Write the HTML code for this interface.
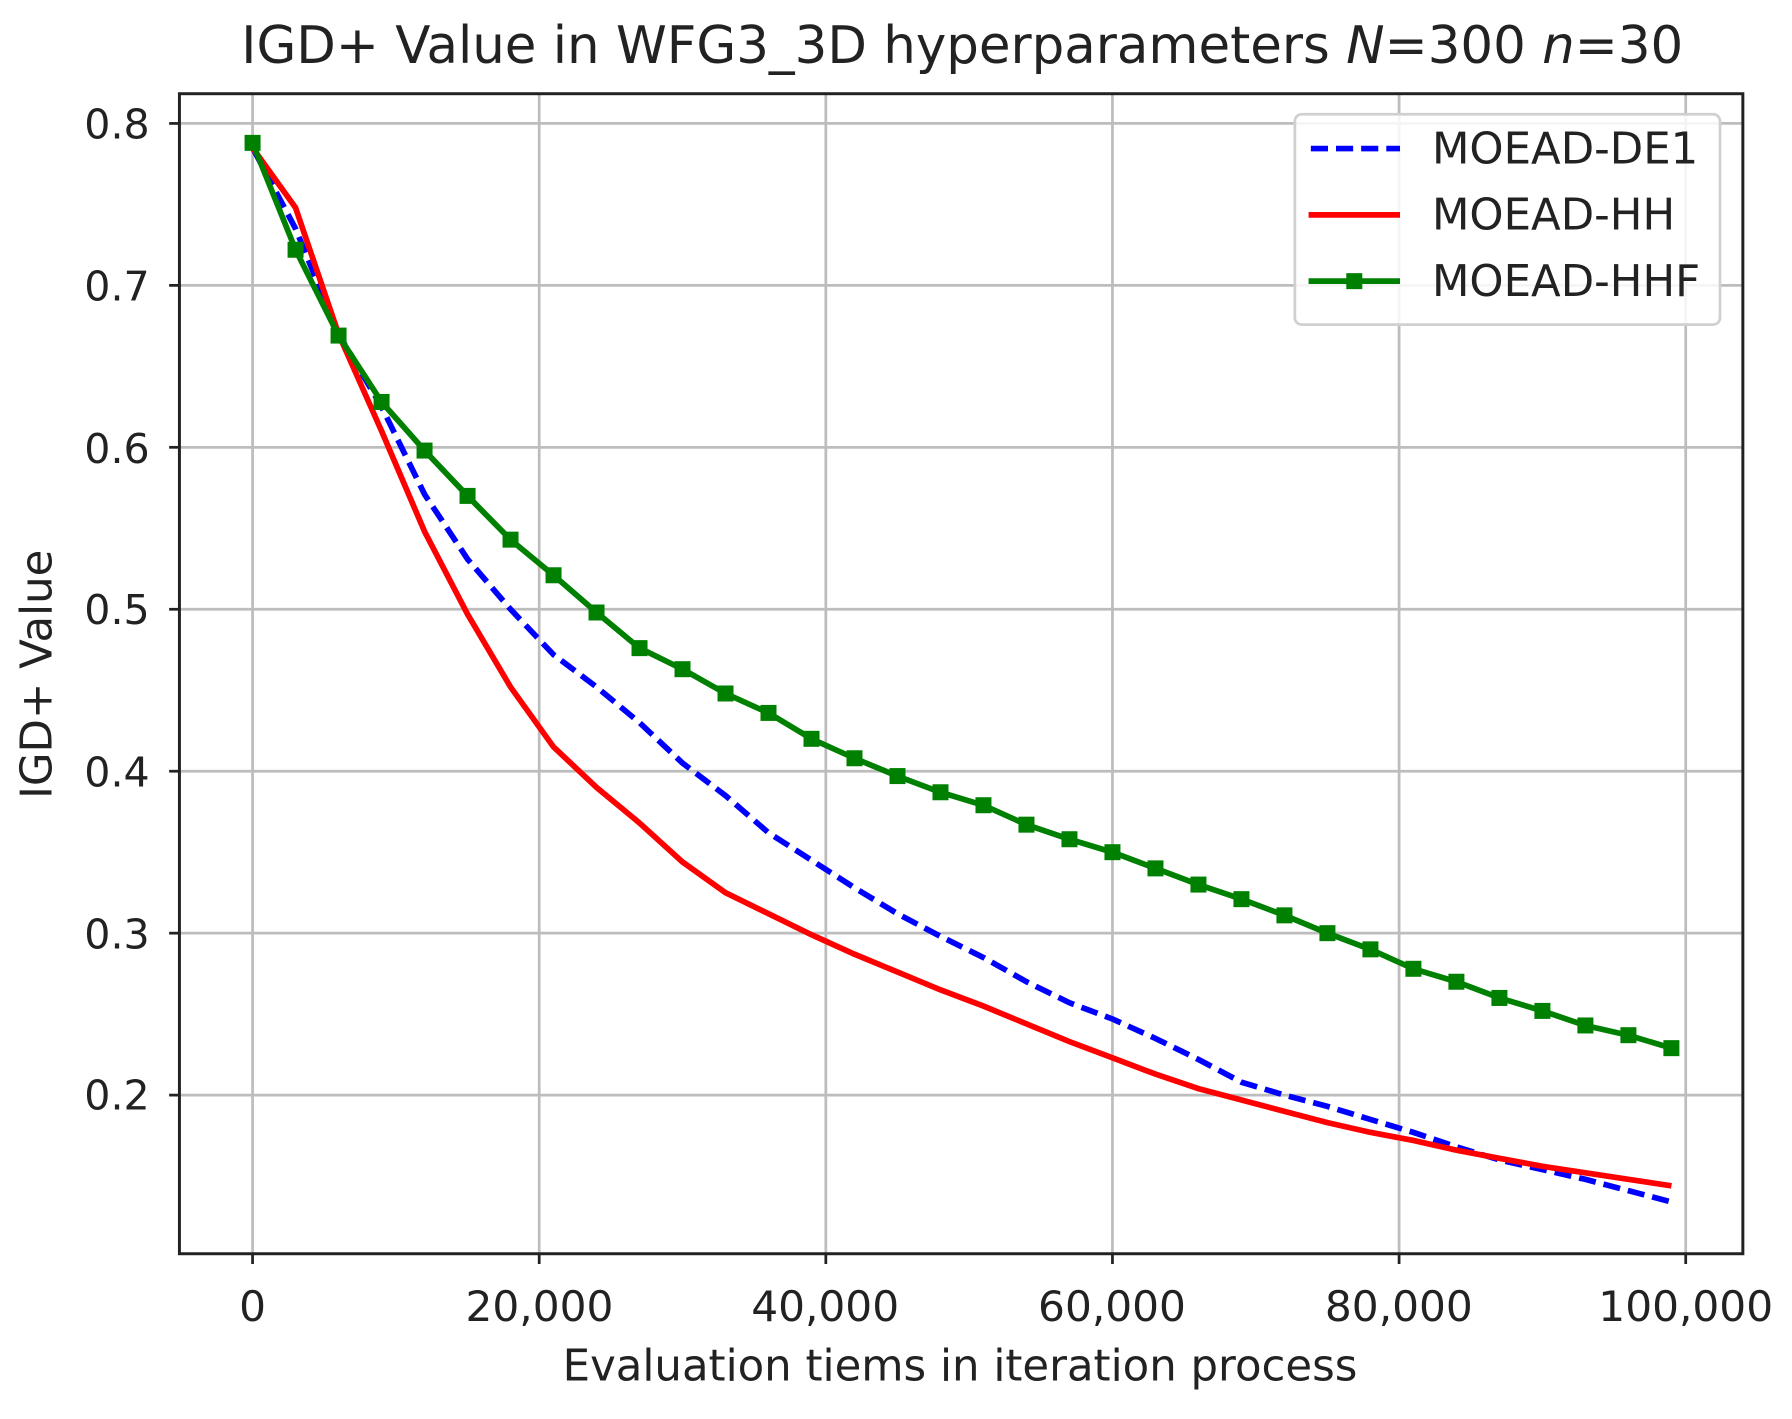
<!DOCTYPE html>
<html><head><meta charset="utf-8"><style>
html,body{margin:0;padding:0;background:#fff;}
svg{display:block;}
text{font-family:"DejaVu Sans","Liberation Sans",sans-serif;fill:#222;}
</style></head><body>
<svg id="c" width="1792" height="1419" viewBox="0 0 1568 1241.6" preserveAspectRatio="none" xmlns="http://www.w3.org/2000/svg">
<rect width="1568" height="1242" fill="#fff"/>
<g id="grid" stroke="#bdbdbd" stroke-width="2.4"></g>
<g id="series"></g>
<rect x="157" y="82" width="1368" height="1015" fill="none" stroke="#222" stroke-width="2.6"/>
<g id="ticks" stroke="#222" stroke-width="2.4"></g>
<g font-size="36" text-anchor="end">
<text x="131" y="121">0.8</text><text x="131" y="263">0.7</text><text x="131" y="405">0.6</text>
<text x="131" y="546">0.5</text><text x="131" y="688">0.4</text><text x="131" y="830">0.3</text>
<text x="131" y="971">0.2</text>
</g>
<g font-size="37" text-anchor="middle">
<text x="221" y="1156">0</text><text x="472" y="1156">20,000</text><text x="722" y="1156">40,000</text>
<text x="973" y="1156">60,000</text><text x="1224" y="1156">80,000</text><text x="1475" y="1156">100,000</text>
</g>
<text x="840" y="1208" font-size="38" text-anchor="middle">Evaluation tiems in iteration process</text>
<text transform="translate(45,590) rotate(-90)" font-size="38" text-anchor="middle">IGD+ Value</text>
<text x="842" y="55" font-size="45" text-anchor="middle">IGD+ Value in WFG3_3D hyperparameters <tspan font-style="italic">N</tspan>=300 <tspan font-style="italic">n</tspan>=30</text>
<rect x="1133" y="100" width="372" height="184" rx="6" fill="#fff" fill-opacity="0.85" stroke="#d0d0d0" stroke-width="2.4"/>
<line x1="1147" y1="130" x2="1225" y2="130" stroke="#0000ff" stroke-width="5" stroke-dasharray="15,7"/>
<line x1="1145" y1="188" x2="1225" y2="188" stroke="#ff0000" stroke-width="5"/>
<line x1="1145" y1="246" x2="1225" y2="246" stroke="#008000" stroke-width="5"/>
<rect x="1178" y="239" width="14" height="14" fill="#008000"/>
<g font-size="38"><text x="1253" y="143">MOEAD-DE1</text><text x="1253" y="201">MOEAD-HH</text><text x="1253" y="259">MOEAD-HHF</text></g>
</svg>
<script>
var X=function(k){return 221+k*12.54;},Y=function(v){return 108+(0.8-v)*1417;};
var ns="http://www.w3.org/2000/svg";
function el(p,t,a){var e=document.createElementNS(ns,t);for(var k in a)e.setAttribute(k,a[k]);p.appendChild(e);return e;}
var g=document.getElementById('grid'),tk=document.getElementById('ticks'),s=document.getElementById('series');
[0,20,40,60,80,100].forEach(function(k){var x=X(k);el(g,'line',{x1:x,x2:x,y1:82,y2:1097});el(tk,'line',{x1:x,x2:x,y1:1097,y2:1106});});
[0.8,0.7,0.6,0.5,0.4,0.3,0.2].forEach(function(v){var y=Y(v);el(g,'line',{x1:157,x2:1525,y1:y,y2:y});el(tk,'line',{x1:148,x2:157,y1:y,y2:y});});
var G=[.788,.722,.669,.628,.598,.570,.543,.521,.498,.476,.463,.448,.436,.420,.408,.397,.387,.379,.367,.358,.350,.340,.330,.321,.311,.300,.290,.278,.270,.260,.252,.243,.237,.229];
var R=[.785,.748,.67,.61,.548,.497,.452,.415,.39,.368,.344,.325,.312,.299,.287,.276,.265,.255,.244,.233,.223,.213,.204,.197,.19,.183,.177,.172,.166,.161,.156,.152,.148,.144];
var B=[.785,.735,.67,.625,.571,.531,.5,.472,.452,.43,.405,.385,.362,.345,.328,.312,.298,.285,.27,.257,.247,.235,.222,.208,.2,.193,.185,.177,.168,.16,.154,.148,.141,.134];
function pts(a){return a.map(function(v,i){return X(i*3).toFixed(1)+','+Y(v).toFixed(1);}).join(' ');}
el(s,'polyline',{points:pts(B),fill:'none',stroke:'#0000ff','stroke-width':5,'stroke-dasharray':'15,7'});
el(s,'polyline',{points:pts(R),fill:'none',stroke:'#ff0000','stroke-width':5});
el(s,'polyline',{points:pts(G),fill:'none',stroke:'#008000','stroke-width':5});
G.forEach(function(v,i){el(s,'rect',{x:X(i*3)-7,y:Y(v)-7,width:14,height:14,fill:'#008000'});});
</script>
</body></html>
